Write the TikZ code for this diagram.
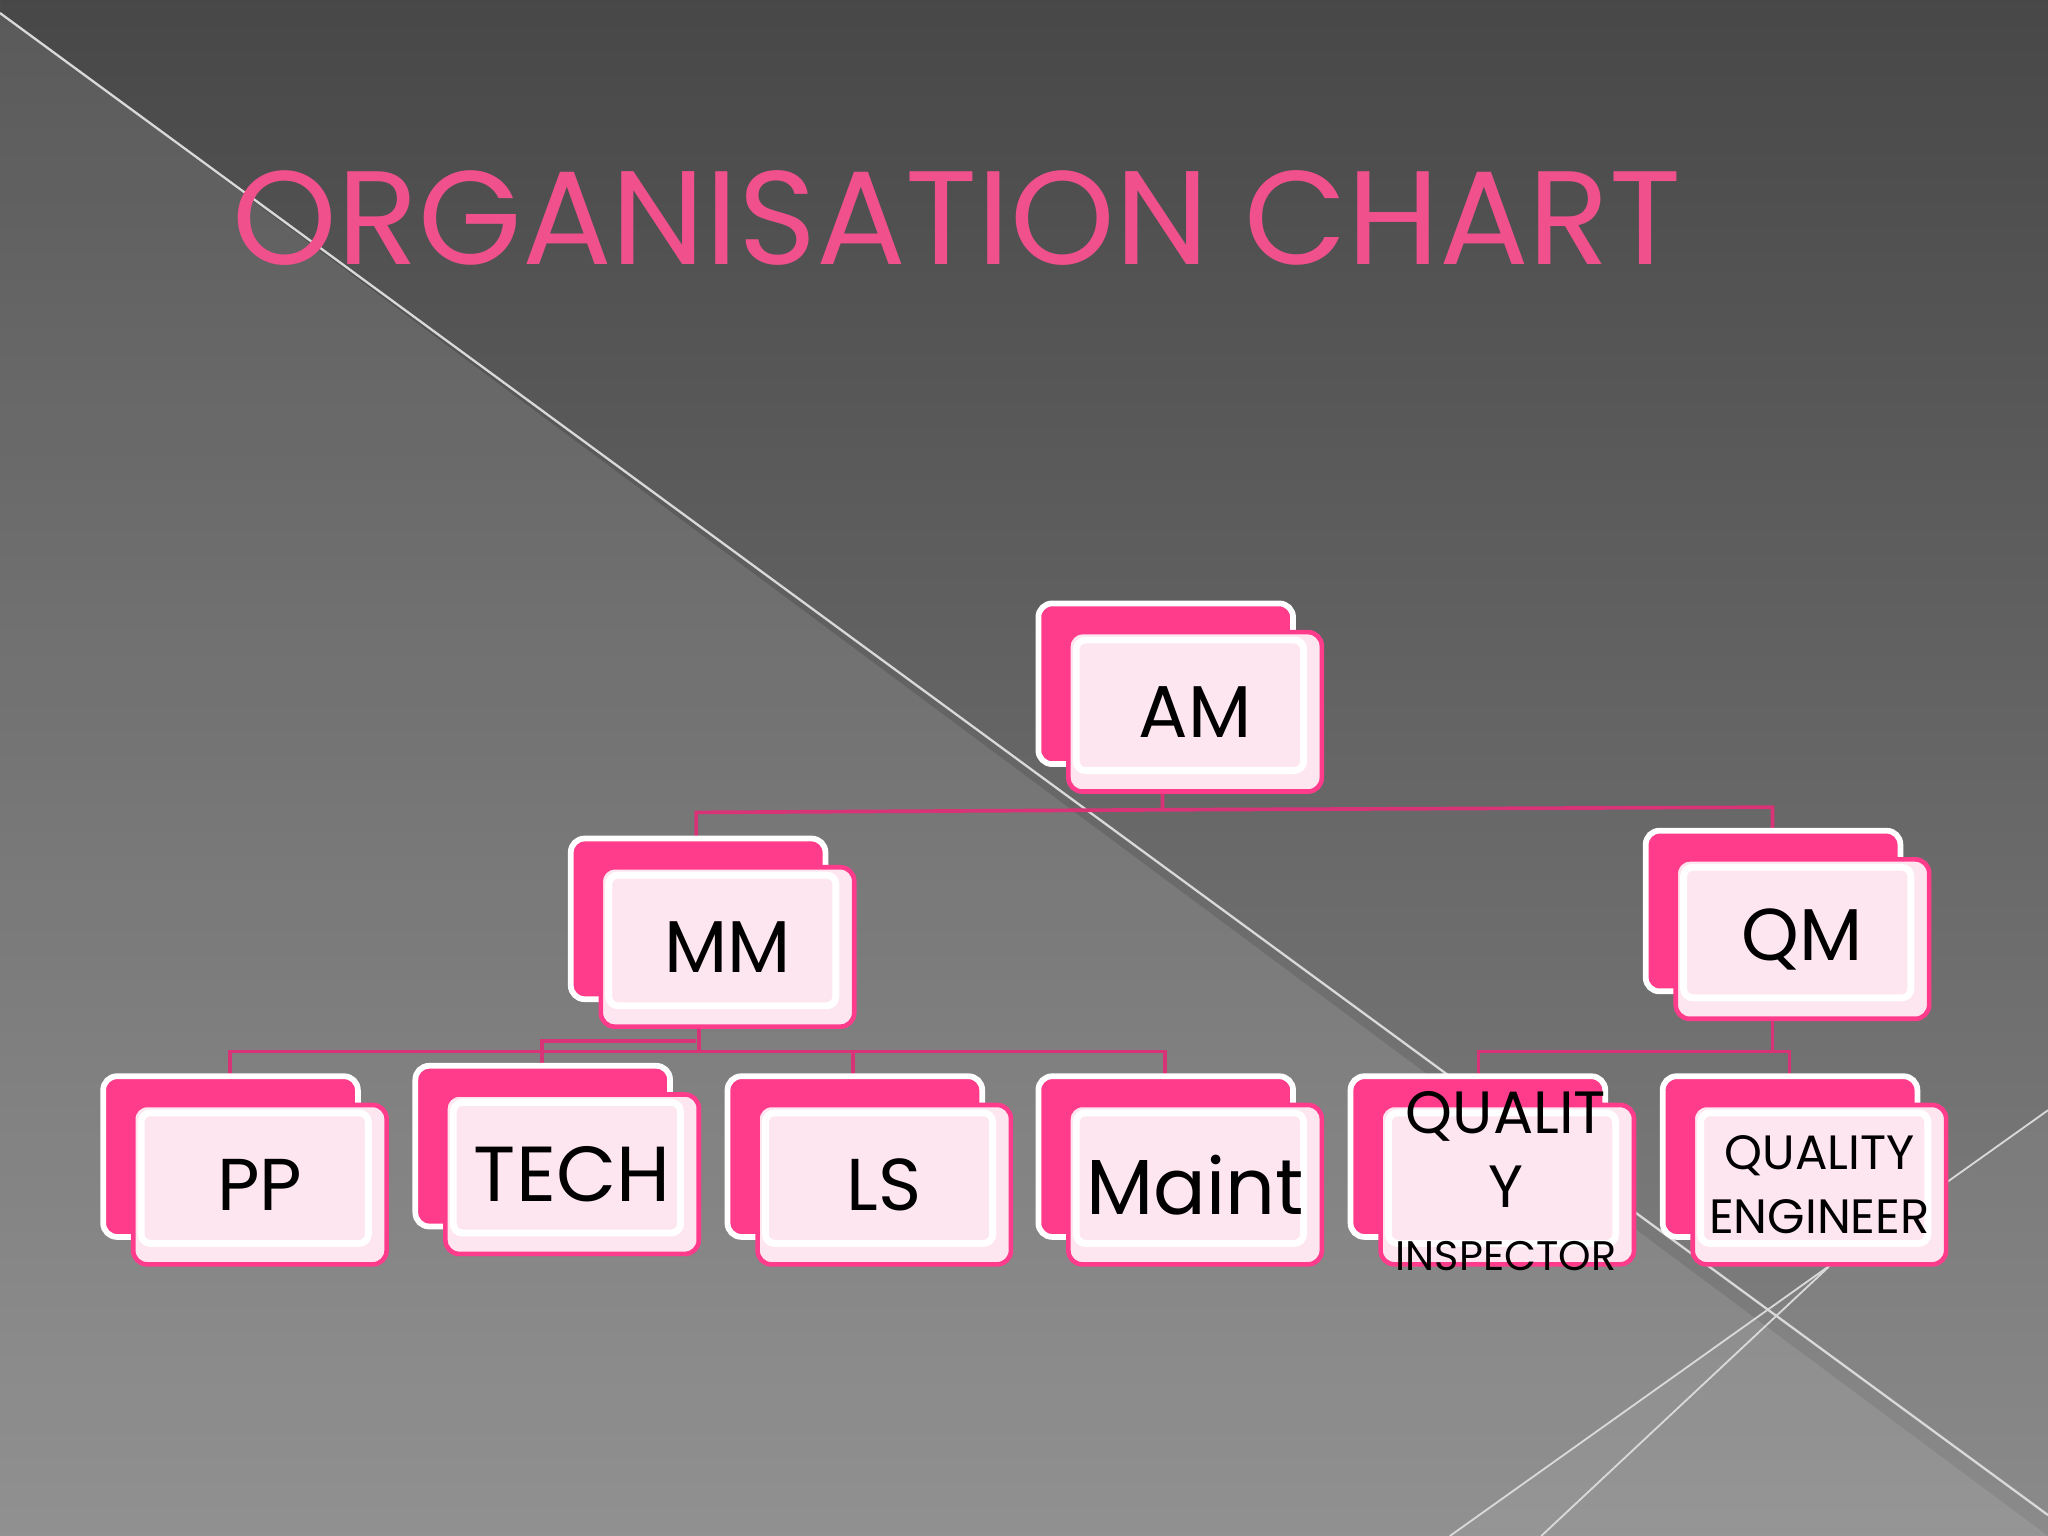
\documentclass[tikz,border=0pt]{standalone}
\usepackage{fontspec}
\setmainfont{Poppins}
\definecolor{pk}{HTML}{FF3C8C}
\definecolor{pkl}{HTML}{FDE6F0}
\definecolor{ttl}{HTML}{F0508C}
\tikzset{
 backbox/.style={fill=pk,draw=white,line width=2.5pt,rounded corners=6pt},
 frontbox/.style={fill=pkl,draw=pk,line width=2pt,rounded corners=6pt},
 inner/.style={draw=white,line width=3pt,rounded corners=4pt},
 conn/.style={draw=pk!85!black,line width=1.6pt},
 lbl/.style={text=black,font=\fontsize{30}{30}\selectfont,inner sep=0pt}
}
\newcommand{\orgbox}[6]{%
 \draw[backbox] (#2,#3) rectangle ++(195,123);
 \draw[frontbox] (#2+23,#3+22) rectangle ++(194,122);
 \draw[inner] (#2+29,#3+28) rectangle ++(174,100);
 \node[lbl,font=\fontsize{#5}{#6}\selectfont,align=center] (#1) at (#2+120,#3+83) {#4};
}
\begin{document}
\begin{tikzpicture}[x=0.02cm,y=-0.02cm]
\useasboundingbox (0,0) rectangle (1568,1176);
\shade[top color=black!72,bottom color=black!48] (0,0) rectangle (1568,1176);
\fill[white,opacity=0.1] (0,0) -- (0,1176) -- (1568,1176) -- (0,10) -- cycle;
\fill[white,opacity=0.05] (1568,850) -- (1110,1176) -- (1568,1176) -- cycle;
\draw[white!70!gray,line width=1pt] (0,10) -- (1568,1160);
\draw[white!70!gray,line width=0.8pt] (1568,850) -- (1110,1176);
\draw[white!70!gray,line width=0.8pt] (1400,970) -- (1180,1176);
\node[text=ttl,draw=none,font=\fontsize{58}{58}\selectfont,anchor=west,inner sep=0pt] (title) at (178,167) {ORGANISATION CHART};
% connectors
\draw[conn] (890,605) -- (890,620) -- (533,622) -- (533,642);
\draw[conn] (890,620) -- (1357,618) -- (1357,636);
\draw[conn] (535,786) -- (535,805);
\draw[conn] (176,824) -- (176,805) -- (892,805) -- (892,824);
\draw[conn] (415,816) -- (415,797) -- (533,797);
\draw[conn] (653,805) -- (653,824);
\draw[conn] (1357,780) -- (1357,805);
\draw[conn] (1132,824) -- (1132,805) -- (1370,805) -- (1370,824);
% boxes
\orgbox{am}{795}{462}{AM}{32}{32}
\orgbox{mm}{437}{642}{MM}{32}{32}
\orgbox{qm}{1260}{636}{QM}{32}{32}
\orgbox{pp}{79}{824}{PP}{32}{32}
\orgbox{tech}{318}{816}{TECH}{34}{34}
\orgbox{ls}{557}{824}{LS}{32}{32}
\orgbox{maint}{795}{824}{Maint}{34}{34}
\draw[backbox] (1034,824) rectangle ++(195,123);
\draw[frontbox] (1057,846) rectangle ++(194,122);
\draw[inner] (1063,852) rectangle ++(174,100);
\node[lbl,font=\fontsize{26}{32}\selectfont,align=center] (qi) at (1153,880) {QUALIT\\Y};
\node[lbl,font=\fontsize{18}{18}\selectfont] (qi2) at (1153,962) {INSPECTOR};
\orgbox{qe}{1273}{824}{QUALITY\\[4pt]ENGINEER}{21}{24}
\end{tikzpicture}
\end{document}
